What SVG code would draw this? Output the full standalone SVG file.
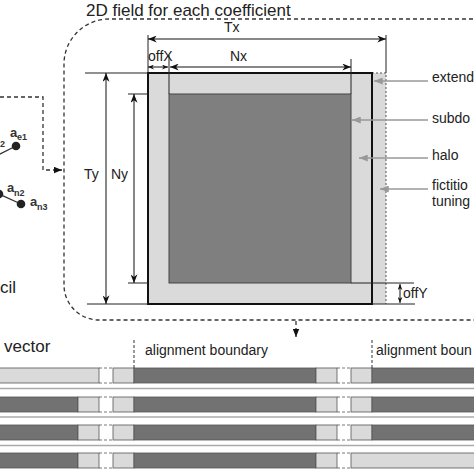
<svg xmlns="http://www.w3.org/2000/svg" width="474" height="474" viewBox="0 0 474 474">
<style>
text{font-family:"Liberation Sans",Arial,sans-serif;fill:#222}
.t14{font-size:14px}
.t17{font-size:17px}
.sym{font-size:13px;font-weight:bold;fill:#333}
.sub{font-size:9px;font-weight:bold;fill:#333}
.dim{stroke:#111;stroke-width:1;fill:none}
.ext{stroke:#222;stroke-width:1;fill:none}
.ptr{stroke:#999;stroke-width:1.3;fill:none;marker-end:url(#ga)}
.dash{stroke:#333;stroke-width:1.3;fill:none;stroke-dasharray:4 3}
.lt{fill:#dadada;stroke:#555;stroke-width:0.8}
.dk{fill:#727272;stroke:#555;stroke-width:0.8}
.gap{stroke:#555;stroke-width:0.8;stroke-dasharray:3 2;fill:none}
.sep{stroke:#aaa;stroke-width:1.5}
</style>
<defs>
<marker id="ba" viewBox="0 0 10 8" refX="10" refY="4" markerWidth="9" markerHeight="7" markerUnits="userSpaceOnUse" orient="auto-start-reverse"><path d="M0,0 L10,4 L0,8 L3,4 z" fill="#111"/></marker>
<marker id="bs" viewBox="0 0 10 8" refX="10" refY="4" markerWidth="6" markerHeight="5" markerUnits="userSpaceOnUse" orient="auto-start-reverse"><path d="M0,0 L10,4 L0,8 L3,4 z" fill="#111"/></marker>
<marker id="ga" viewBox="0 0 10 8" refX="10" refY="4" markerWidth="9" markerHeight="7" markerUnits="userSpaceOnUse" orient="auto"><path d="M0,0 L10,4 L0,8 z" fill="#999"/></marker>
<marker id="da" viewBox="0 0 10 8" refX="10" refY="4" markerWidth="8" markerHeight="7" markerUnits="userSpaceOnUse" orient="auto"><path d="M0,0 L10,4 L0,8 z" fill="#111"/></marker>
</defs>
<rect width="474" height="474" fill="#fff"/>

<g id="field-frame">
<path class="dash" d="M480 19 H109 A45 45 0 0 0 64 64 V285 A35 35 0 0 0 99 320 H480"/>
<text class="t17" x="86" y="16">2D field for each coefficient</text>
</g>

<g id="field">
<rect x="372" y="73" width="14" height="231" fill="#dadada"/>
<path d="M372 73 H386 V304" stroke="#555" stroke-width="1" stroke-dasharray="2 2" fill="none"/>
<rect x="148" y="73" width="224" height="231" fill="#dadada" stroke="#111" stroke-width="2"/>
<rect x="169" y="94" width="182" height="189" fill="#7f7f7f" stroke="#444" stroke-width="1"/>
</g>

<g id="dimensions">
<path class="ext" d="M148 35 V73 M386 35 V73 M169 55 V94 M351 59 V94 M85 73 H148 M87 304 H148 M128 94 H148 M128 283 H148 M351 283 H414 M372 304 H415"/>
<line class="dim" x1="148" y1="39" x2="386" y2="39" marker-start="url(#ba)" marker-end="url(#ba)"/>
<line class="dim" x1="170" y1="67" x2="351" y2="67" marker-start="url(#ba)" marker-end="url(#ba)"/>
<line class="dim" x1="148" y1="67" x2="168" y2="67" marker-start="url(#bs)" marker-end="url(#bs)"/>
<line class="dim" x1="106" y1="73" x2="106" y2="304" marker-start="url(#ba)" marker-end="url(#ba)"/>
<line class="dim" x1="134" y1="94" x2="134" y2="283" marker-start="url(#ba)" marker-end="url(#ba)"/>
<line class="dim" x1="400" y1="284" x2="400" y2="303" marker-start="url(#bs)" marker-end="url(#bs)"/>
<text class="t14" x="224" y="32">Tx</text>
<text class="t14" x="148" y="61">offX</text>
<text class="t14" x="230" y="61">Nx</text>
<text class="t14" x="84" y="179">Ty</text>
<text class="t14" x="111" y="179">Ny</text>
<text class="t14" x="403" y="298">offY</text>
</g>

<g id="legend">
<line class="ptr" x1="428" y1="81" x2="374" y2="81"/>
<line class="ptr" x1="428" y1="120" x2="352" y2="120"/>
<line class="ptr" x1="428" y1="158" x2="359" y2="158"/>
<line class="ptr" x1="428" y1="189" x2="380" y2="189"/>
<text class="t14" x="432" y="82">extend</text>
<text class="t14" x="432" y="123">subdo</text>
<text class="t14" x="432" y="160">halo</text>
<text class="t14" x="432" y="190">fictitio</text>
<text class="t14" x="432" y="206">tuning</text>
</g>

<g id="stencil">
<line x1="16" y1="146" x2="-2" y2="155" stroke="#333" stroke-width="1.3"/>
<line x1="-1" y1="194" x2="21" y2="204" stroke="#333" stroke-width="1.3"/>
<circle cx="16" cy="146" r="4.3" fill="#222"/>
<circle cx="-1" cy="194" r="4.3" fill="#222"/>
<circle cx="21" cy="204" r="4.3" fill="#222"/>
<text class="sub" x="0" y="147">2</text>
<text class="sym" x="10" y="137">a</text><text class="sub" x="17" y="140">e1</text>
<text class="sym" x="7" y="192">a</text><text class="sub" x="14" y="196">n2</text>
<text class="sym" x="30" y="206">a</text><text class="sub" x="37" y="210">n3</text>
<text class="t17" x="0" y="293">cil</text>
</g>

<g id="connectors">
<path class="dash" d="M0 97 H43 V170 H62" marker-end="url(#da)"/>
<path class="dash" d="M296 321 V337" marker-end="url(#da)"/>
</g>

<g id="vector">
<text class="t17" x="4" y="352">vector</text>
<text class="t14" x="145" y="355">alignment boundary</text>
<text class="t14" x="376" y="355">alignment boun</text>
<path d="M134 340 V368 M372 340 V368" stroke="#333" stroke-width="1" stroke-dasharray="3 2"/>
<line class="sep" x1="0" y1="388.5" x2="474" y2="388.5"/>
<line class="sep" x1="0" y1="417" x2="474" y2="417"/>
<line class="sep" x1="0" y1="445.5" x2="474" y2="445.5"/>
<g id="row1">
<rect class="lt" x="-1" y="368" width="100" height="15"/>
<path class="gap" d="M99 368 H113 M99 383 H113"/>
<rect class="lt" x="113" y="368" width="21" height="15"/>
<rect class="dk" x="134" y="368" width="182" height="15"/>
<rect class="lt" x="316" y="368" width="21" height="15"/>
<path class="gap" d="M337 368 H351 M337 383 H351"/>
<rect class="lt" x="351" y="368" width="21" height="15"/>
<rect class="dk" x="372" y="368" width="104" height="15"/>
</g>
<g id="row2">
<rect class="dk" x="-1" y="397" width="79" height="15"/>
<rect class="lt" x="78" y="397" width="21" height="15"/>
<path class="gap" d="M99 397 H113 M99 412 H113"/>
<rect class="lt" x="113" y="397" width="21" height="15"/>
<rect class="dk" x="134" y="397" width="182" height="15"/>
<rect class="lt" x="316" y="397" width="21" height="15"/>
<path class="gap" d="M337 397 H351 M337 412 H351"/>
<rect class="lt" x="351" y="397" width="21" height="15"/>
<rect class="dk" x="372" y="397" width="104" height="15"/>
</g>
<g id="row3">
<rect class="dk" x="-1" y="425" width="79" height="15"/>
<rect class="lt" x="78" y="425" width="21" height="15"/>
<path class="gap" d="M99 425 H113 M99 440 H113"/>
<rect class="lt" x="113" y="425" width="21" height="15"/>
<rect class="dk" x="134" y="425" width="182" height="15"/>
<rect class="lt" x="316" y="425" width="21" height="15"/>
<path class="gap" d="M337 425 H351 M337 440 H351"/>
<rect class="lt" x="351" y="425" width="21" height="15"/>
<rect class="dk" x="372" y="425" width="104" height="15"/>
</g>
<g id="row4">
<rect class="dk" x="-1" y="453" width="79" height="15"/>
<rect class="lt" x="78" y="453" width="21" height="15"/>
<path class="gap" d="M99 453 H113 M99 468 H113"/>
<rect class="lt" x="113" y="453" width="21" height="15"/>
<rect class="dk" x="134" y="453" width="182" height="15"/>
<rect class="lt" x="316" y="453" width="21" height="15"/>
<path class="gap" d="M337 453 H351 M337 468 H351"/>
<rect class="lt" x="351" y="453" width="125" height="15"/>
</g>
</g>
</svg>
